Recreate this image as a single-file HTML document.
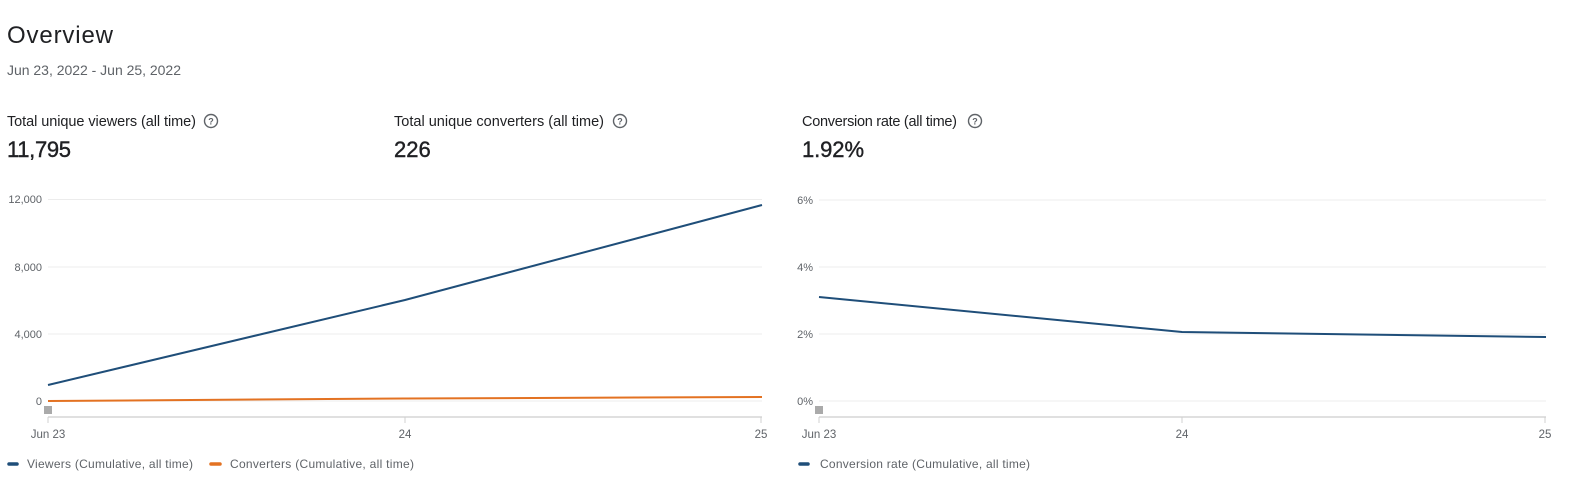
<!DOCTYPE html>
<html><head><style>
body{margin:0;background:#fff;font-family:"Liberation Sans",sans-serif;}
</style></head><body>
<svg width="1580" height="489" xmlns="http://www.w3.org/2000/svg" style="display:block;font-family:'Liberation Sans',sans-serif">
<text x="7" y="43" font-size="24" fill="#202124" textLength="106">Overview</text>
<text x="7" y="75" font-size="14" fill="#5f6368" textLength="174">Jun 23, 2022 - Jun 25, 2022</text>
<g font-size="14.5" fill="#202124">
<text x="7" y="126" textLength="189">Total unique viewers (all time)</text>
<text x="394" y="126" textLength="210">Total unique converters (all time)</text>
<text x="802" y="126" textLength="155">Conversion rate (all time)</text>
</g>
<g fill="none" stroke="#5f6368" stroke-width="1.4">
<circle cx="211" cy="121" r="6.5"/><circle cx="620" cy="121" r="6.5"/><circle cx="975" cy="121" r="6.5"/>
</g>
<g font-size="9" fill="#5f6368" text-anchor="middle" font-weight="bold"><text x="211" y="124.5">?</text><text x="620" y="124.5">?</text><text x="975" y="124.5">?</text></g>
<g font-size="22" fill="#202124" stroke="#202124" stroke-width="0.4"><text x="7" y="157" textLength="64">11,795</text><text x="394" y="157">226</text><text x="802" y="157" textLength="62">1.92%</text></g>
<g stroke="#ececec" stroke-width="1">
<line x1="48" x2="762" y1="199.5" y2="199.5"/><line x1="48" x2="762" y1="267" y2="267"/><line x1="48" x2="762" y1="334" y2="334"/><line x1="48" x2="762" y1="401" y2="401"/>
<line x1="819" x2="1546" y1="200" y2="200"/><line x1="819" x2="1546" y1="267" y2="267"/><line x1="819" x2="1546" y1="334" y2="334"/><line x1="819" x2="1546" y1="401" y2="401"/>
</g>
<g stroke="#e0e0e0" stroke-width="2"><line x1="48" x2="762" y1="417" y2="417"/><line x1="819" x2="1546" y1="417" y2="417"/></g>
<g stroke="#d0d0d0" stroke-width="1"><line x1="48" x2="48" y1="417" y2="423"/><line x1="405" x2="405" y1="417" y2="423"/><line x1="761" x2="761" y1="417" y2="423"/><line x1="819" x2="819" y1="417" y2="423"/><line x1="1182" x2="1182" y1="417" y2="423"/><line x1="1545" x2="1545" y1="417" y2="423"/></g>
<rect x="44" y="406" width="8" height="8" fill="#aaa"/><rect x="815" y="406" width="8" height="8" fill="#aaa"/>
<g font-size="11" fill="#5f6368" text-anchor="end">
<text x="42" y="203">12,000</text><text x="42" y="271">8,000</text><text x="42" y="338">4,000</text><text x="42" y="405">0</text>
<text x="813" y="204">6%</text><text x="813" y="271">4%</text><text x="813" y="338">2%</text><text x="813" y="405">0%</text>
</g>
<g font-size="11.5" fill="#5f6368" text-anchor="middle">
<text x="48" y="438">Jun 23</text><text x="405" y="438">24</text><text x="761" y="438">25</text>
<text x="819" y="438">Jun 23</text><text x="1182" y="438">24</text><text x="1545" y="438">25</text>
</g>
<polyline points="48,385 405,300 762,205" fill="none" stroke="#1f4e79" stroke-width="2"/>
<polyline points="48,401 405,398.5 762,397" fill="none" stroke="#e37222" stroke-width="2"/>
<polyline points="819,297 1182,332 1546,337" fill="none" stroke="#1f4e79" stroke-width="2"/>
<g stroke-width="3.5" stroke-linecap="round">
<line x1="9" x2="17" y1="464" y2="464" stroke="#1f4e79"/><line x1="211" x2="220" y1="464" y2="464" stroke="#e37222"/><line x1="800" x2="808" y1="464" y2="464" stroke="#1f4e79"/>
</g>
<g font-size="12" fill="#5f6368">
<text x="27" y="468" textLength="166">Viewers (Cumulative, all time)</text><text x="230" y="468" textLength="184">Converters (Cumulative, all time)</text><text x="820" y="468" textLength="210">Conversion rate (Cumulative, all time)</text>
</g>
</svg>
</body></html>
